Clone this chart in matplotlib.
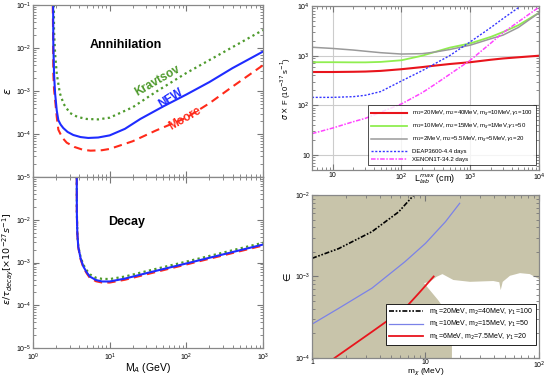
import matplotlib
matplotlib.use("Agg")
import matplotlib.pyplot as plt
from matplotlib.ticker import LogLocator, NullFormatter

plt.rcParams['font.family'] = ['Liberation Sans', 'DejaVu Sans']
plt.rcParams['mathtext.fontset'] = 'dejavusans'

# ---- left: annihilation (M_A in GeV, epsilon) ----
ann_nfw_M = [1.83, 1.84, 1.88, 1.94, 2.04, 2.14, 2.29, 2.48, 2.82, 3.35, 4.17, 5.25, 7.08,
             10, 15.8, 25.1, 50.1, 100, 200, 398, 1000]
ann_nfw = [1e-1, 1.26e-2, 2.5e-3, 8.9e-4, 3.5e-4, 2.1e-4, 1.66e-4, 1.38e-4, 1.12e-4, 9.5e-5,
           8.5e-5, 8.1e-5, 8.3e-5, 9.3e-5, 1.32e-4, 2.24e-4, 4.4e-4, 8.3e-4, 1.62e-3, 3.4e-3, 8.3e-3]

ann_krav_M = [1.87, 1.88, 1.94, 2.04, 2.24, 2.51, 3.02, 3.8, 5.01, 7.08, 10, 20, 39.8, 100, 316, 1000]
ann_krav = [1e-1, 2.5e-2, 7.6e-3, 2.5e-3, 8.9e-4, 5e-4, 3.1e-4, 2.5e-4, 2.24e-4, 2.19e-4, 2.4e-4,
            4.2e-4, 9.5e-4, 2.63e-3, 8.3e-3, 2.63e-2]

ann_moore_M = [1.81, 1.83, 1.84, 1.88, 1.94, 2.04, 2.14, 2.40, 2.75, 3.47, 4.47, 5.62, 7.94,
               10, 20, 39.8, 100, 200, 398, 1000]
ann_moore = [1e-1, 1.58e-2, 2.63e-3, 1.12e-3, 6.3e-4, 2.5e-4, 1.26e-4, 8.3e-5, 6.3e-5, 5e-5,
             4.3e-5, 4.1e-5, 4.2e-5, 4.5e-5, 6.8e-5, 1.2e-4, 2.4e-4, 5.2e-4, 1.26e-3, 4e-3]

# ---- left: decay ----
dec_M = [3.72, 3.73, 3.78, 3.89, 4.17, 4.53, 5.01, 5.5, 6.61, 7.94, 10, 15.8, 31.6, 100, 316, 1000]
dec_nfw = [1e-1, 1.45e-2, 5e-3, 2.34e-3, 1.26e-3, 8.1e-4, 5.9e-4, 4.7e-4, 3.9e-4, 3.6e-4, 3.6e-4,
           4.2e-4, 5.75e-4, 9.5e-4, 1.58e-3, 2.63e-3]
dec_krav = [1e-1, 1.45e-2, 5.1e-3, 2.4e-3, 1.35e-3, 8.9e-4, 6.6e-4, 5.3e-4, 4.4e-4, 4.15e-4, 4.1e-4,
            4.7e-4, 6.4e-4, 1.05e-3, 1.74e-3, 2.9e-3]
dec_moore = [1e-1, 1.45e-2, 4.9e-3, 2.25e-3, 1.2e-3, 7.7e-4, 5.6e-4, 4.4e-4, 3.65e-4, 3.4e-4, 3.4e-4,
             3.95e-4, 5.4e-4, 9e-4, 1.5e-3, 2.5e-3]

# ---- top right: sigma x F vs L_lab^max (cm) ----
L = [5, 10, 20, 30, 50, 100, 200, 300, 500, 1000, 2000, 3000, 5000, 10000]
sf_m20 = [470, 470, 475, 480, 495, 535, 590, 630, 680, 740, 830, 880, 930, 1000]
sf_m10 = [740, 740, 735, 735, 750, 810, 1000, 1180, 1450, 1770, 2400, 3000, 4100, 7300]
sf_m2 = [1480, 1400, 1300, 1230, 1150, 1080, 1100, 1180, 1330, 1630, 2200, 2600, 3700, 7300]
deap = [145, 145, 150, 160, 190, 310, 500, 680, 1000, 1900, 3700, 5600, 9250, 18000]
xenon = [27, 35, 47, 55, 73, 107, 180, 260, 420, 810, 1800, 2900, 4800, 9500]
sf_labels = [r"m$_1$=20MeV, m$_2$=40MeV, m$_\chi$=10MeV,$\gamma_1$=100",
             r"m$_1$=10MeV, m$_2$=15MeV, m$_\chi$=1MeV,$\gamma_1$=50",
             r"m$_1$=2MeV, m$_2$=5.5MeV, m$_\chi$=5MeV,$\gamma_1$=20",
             "DEAP3600-4.4 days", "XENON1T-34.2 days"]

# ---- bottom right: epsilon vs m_chi (MeV) ----
br_m20_x = [1.0, 1.72, 3.38, 5.8, 7.9]
br_m20_y = [1.67e-3, 2.2e-3, 3.55e-3, 6.2e-3, 1e-2]
br_m10_x = [1.0, 1.72, 3.38, 6.6, 10, 15, 20]
br_m10_y = [2.6e-4, 4.07e-4, 7.2e-4, 1.52e-3, 2.55e-3, 4.7e-3, 7.9e-3]
br_m6_x = [1.58, 3.38, 6.6, 8.7, 11.8]
br_m6_y = [1e-4, 2.1e-4, 4.07e-4, 6.2e-4, 1e-3]
allowed_x = [17.1, 17.1, 12.9, 9.7, 10.9, 12.5, 14.1, 17.6, 24.7, 39.6, 44.7, 46, 47.9,
             55.5, 68, 83, 100, 100]
allowed_y = [1e-4, 2.92e-4, 5.15e-4, 8.3e-4, 8.6e-4, 9.9e-4, 1.07e-3, 9.06e-4, 8.6e-4, 8.8e-4,
             8.5e-4, 6.8e-4, 8.6e-4, 1.02e-3, 1.1e-3, 1.07e-3, 9.3e-4, 1e-4]
br_labels = [r"m$_1$=20MeV, m$_2$=40MeV, $\gamma_1$=100",
             r"m$_1$=10MeV, m$_2$=15MeV, $\gamma_1$=50",
             r"m$_1$=6MeV, m$_2$=7.5MeV, $\gamma_1$=20"]

fig = plt.figure(figsize=(5.44, 3.77), dpi=100)

ax1 = fig.add_axes([0.0607, 0.5305, 0.4228, 0.456])
ax2 = fig.add_axes([0.0607, 0.0769, 0.4228, 0.4536])
ax3 = fig.add_axes([0.5735, 0.549, 0.4173, 0.435])
ax4 = fig.add_axes([0.5735, 0.0504, 0.4173, 0.4324])


def style(ax):
    ax.set_xscale('log')
    ax.set_yscale('log')
    for s in ax.spines.values():
        s.set_color('#888888')
        s.set_linewidth(0.9)
    ax.tick_params(which='both', direction='in', top=True, right=True, labelsize=5,
                   color='#777777', pad=1.5)
    ax.tick_params(which='major', length=4)
    ax.tick_params(which='minor', length=2)
    ax.xaxis.set_minor_locator(LogLocator(subs=range(2, 10)))
    ax.yaxis.set_minor_locator(LogLocator(subs=range(2, 10)))
    ax.xaxis.set_minor_formatter(NullFormatter())
    ax.yaxis.set_minor_formatter(NullFormatter())


for ax in (ax1, ax2, ax3, ax4):
    style(ax)

green = '#4e9a2c'
blue = '#1f2cff'
red = '#ff2a1a'

# annihilation
ax1.plot(ann_krav_M, ann_krav, color=green, lw=1.6, ls=(0, (1, 1.5)))
ax1.plot(ann_moore_M, ann_moore, color=red, lw=1.5, ls=(0, (4, 2.5)))
ax1.plot(ann_nfw_M, ann_nfw, color=blue, lw=1.5)
ax1.set_xlim(1, 1000)
ax1.set_ylim(1e-5, 1e-1)
ax1.set_xticklabels([])
ax1.set_ylabel(r"$\varepsilon$", fontsize=8)
ax1.yaxis.set_label_coords(-0.085, 0.5)
ax1.text(0.404, 0.767, "Annihilation", transform=ax1.transAxes, fontsize=9,
         fontweight='bold', ha='center', va='center')
ax1.text(42.6, 1.7e-3, "Kravtsov", color=green, fontsize=8.5, fontweight='bold',
         rotation=30, ha='center', va='center')
ax1.text(63, 6.9e-4, "NFW", color=blue, fontsize=8.5, fontweight='bold',
         rotation=32, ha='center', va='center')
ax1.text(96, 2.3e-4, "Moore", color=red, fontsize=8.5, fontweight='bold',
         rotation=30, ha='center', va='center')

# decay
ax2.plot(dec_M, dec_krav, color=green, lw=1.6, ls=(0, (1, 1.5)))
ax2.plot(dec_M, dec_moore, color=red, lw=1.5, ls=(0, (4, 2.5)))
ax2.plot(dec_M, dec_nfw, color=blue, lw=1.5)
ax2.set_xlim(1, 1000)
ax2.set_ylim(1e-5, 1e-1)
ax2.set_yticks([1e-5, 1e-4, 1e-3, 1e-2])
ax2.tick_params(axis='x', pad=3)
ax2.set_ylabel(r"$\varepsilon/\tau_{decay}[\times10^{-27}s^{-1}]$", fontsize=6.8)
ax2.yaxis.set_label_coords(-0.08, 0.52)
ax2.set_xlabel(r"M$_A$ (GeV)", fontsize=7.5)
ax2.xaxis.set_label_coords(0.5, -0.075)
ax2.text(0.409, 0.737, "Decay", transform=ax2.transAxes, fontsize=9,
         fontweight='bold', ha='center', va='center')

# sigma x F
ax3.grid(True, which='major', color='#cccccc', lw=0.8)
ax3.plot(L, sf_m20, color='#e8141c', lw=1.5, label=sf_labels[0])
ax3.plot(L, sf_m10, color='#90ee50', lw=1.3, label=sf_labels[1])
ax3.plot(L, sf_m2, color='#9a9a9a', lw=1.1, label=sf_labels[2])
ax3.plot(L, deap, color='#3636ff', lw=1.0, ls=(0, (1.5, 1.2)), label=sf_labels[3])
ax3.plot(L, xenon, color='#ff44ff', lw=1.1, ls=(0, (3, 1, 1, 1)), label=sf_labels[4])
ax3.set_xlim(5, 1e4)
ax3.set_ylim(5, 1e4)
ax3.set_xticks([10, 100, 1000, 10000])
ax3.set_xticklabels(['10', r'10$^2$', r'10$^3$', r'10$^4$'])
ax3.set_yticks([10, 100, 1000, 10000])
ax3.set_yticklabels(['10', r'10$^2$', r'10$^3$', r'10$^4$'])
ax3.set_ylabel(r"$\sigma$ $\times$ F (10$^{-37}$ s$^{-1}$)", fontsize=5.5)
ax3.yaxis.set_label_coords(-0.085, 0.5)
ax3.set_xlabel(r"L$_{lab}^{max}$ (cm)", fontsize=6.5)
ax3.xaxis.set_label_coords(0.54, -0.015)
leg3 = ax3.legend(loc='lower right', bbox_to_anchor=(1.0, 0.01), fontsize=4.3,
                  handlelength=6, frameon=True, fancybox=False, borderpad=0.5,
                  labelspacing=0.55, edgecolor='black')
leg3.get_frame().set_linewidth(0.6)

# epsilon vs m_chi
ax4.set_facecolor('#c8c4aa')
ax4.fill(allowed_x, allowed_y, color='white', lw=0)
ax4.plot(br_m20_x, br_m20_y, color='black', lw=1.2, ls=(0, (3, 1, 1, 1, 1, 1)), label=br_labels[0])
ax4.plot(br_m10_x, br_m10_y, color='#7b82e8', lw=0.9, label=br_labels[1])
ax4.plot(br_m6_x, br_m6_y, color='#e8141c', lw=1.3, label=br_labels[2])
ax4.set_xlim(1, 100)
ax4.set_ylim(1e-4, 1e-2)
ax4.set_xticks([1, 10, 100])
ax4.set_xticklabels(['1', '10', r'10$^2$'])
ax4.tick_params(axis='x', pad=1)
ax4.set_ylabel("\u2208", fontsize=7)
ax4.yaxis.set_label_coords(-0.085, 0.5)
ax4.set_xlabel(r"m$_\chi$ (MeV)", fontsize=6)
ax4.xaxis.set_label_coords(0.5, -0.052)
leg4 = ax4.legend(loc='lower right', bbox_to_anchor=(1.0, 0.06), fontsize=5,
                  handlelength=5, frameon=True, fancybox=False, borderpad=0.4,
                  labelspacing=0.35, edgecolor='black', facecolor='white', framealpha=1)
leg4.get_frame().set_linewidth(0.6)

fig.savefig("out.png", dpi=100)
